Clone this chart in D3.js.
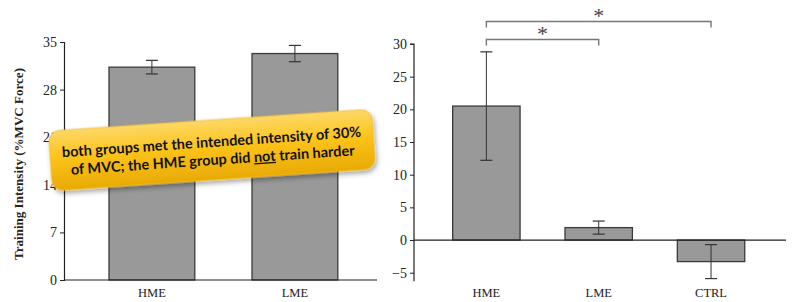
<!DOCTYPE html>
<html>
<head>
<meta charset="utf-8">
<script src="https://cdn.jsdelivr.net/npm/d3@7"></script>
<style>
  body { margin: 0; background: #fff; }
  svg text { font-family: "Liberation Serif", "Times New Roman", serif; }
</style>
</head>
<body>
<div id="chart"></div>
<script>
// Left panel: training intensity
const leftGroups = ["HME", "LME"];
const leftMeans = [31.3, 33.3];
const leftErr = [1.0, 1.2];
const leftTicks = [0, 7, 14, 21, 28, 35];

// Right panel: change
const rightGroups = ["HME", "LME", "CTRL"];
const rightMeans = [20.5, 1.9, -3.3];
const rightErr = [8.3, 1.0, 2.6];
const rightTicks = [-5, 0, 5, 10, 15, 20, 25, 30];

// significance brackets: [from, to]
const sigPairs = [["HME", "CTRL"], ["HME", "LME"]];

const noteLines = ["both groups met the intended intensity of 30%", "of MVC; the HME group did ", "not", " train harder"];

const width = 795, height = 302;
const svg = d3.select("#chart").append("svg")
    .attr("width", width)
    .attr("height", height);

const barFill = "#999999";
const barStroke = "#3a3a3a";

const drawAxisY = (g, scale, ticks) => {
    const ax = g.call(d3.axisLeft(scale).tickValues(ticks).tickSize(4).tickPadding(3));
    ax.select(".domain").attr("stroke", "#222").attr("stroke-width", 1.2);
    ax.selectAll(".tick line").attr("stroke", "#222");
    ax.selectAll(".tick text")
        .attr("fill", "#222")
        .style("font-size", "14px")
        .style("font-family", "'Liberation Serif', serif");
};

const drawErr = (g, x, y0, y1, cap) => {
    g.append("line").attr("x1", x).attr("x2", x).attr("y1", y0).attr("y2", y1)
        .attr("stroke", "#333").attr("stroke-width", 1);
    [y0, y1].forEach(y => g.append("line")
        .attr("x1", x - cap).attr("x2", x + cap).attr("y1", y).attr("y2", y)
        .attr("stroke", "#333").attr("stroke-width", 1.2));
};

// ---------- left panel ----------
const xL = d3.scaleBand().domain(leftGroups).range([80.4, 366.4]).paddingInner(0.4).paddingOuter(0.2);
const yL = d3.scaleLinear().domain([0, 35]).range([280, 42]);

const gL = svg.append("g");
gL.selectAll("rect.bar").data(leftGroups).join("rect")
    .attr("class", "bar")
    .attr("x", d => xL(d))
    .attr("width", xL.bandwidth())
    .attr("y", (d, i) => yL(leftMeans[i]))
    .attr("height", (d, i) => yL(0) - yL(leftMeans[i]))
    .attr("fill", barFill)
    .attr("stroke", barStroke)
    .attr("stroke-width", 1.3);

leftGroups.forEach((d, i) => {
    drawErr(gL, xL(d) + xL.bandwidth() / 2, yL(leftMeans[i] - leftErr[i]), yL(leftMeans[i] + leftErr[i]), 6);
});

drawAxisY(gL.append("g").attr("transform", "translate(64,0)"), yL, leftTicks);

gL.append("line").attr("x1", 64).attr("x2", 377).attr("y1", yL(0)).attr("y2", yL(0))
    .attr("stroke", "#222").attr("stroke-width", 1.2);

gL.selectAll("text.xlab").data(leftGroups).join("text")
    .attr("class", "xlab")
    .attr("x", d => xL(d) + xL.bandwidth() / 2)
    .attr("y", 297)
    .attr("text-anchor", "middle")
    .attr("fill", "#222")
    .style("font-size", "12.5px")
    .text(d => d);

gL.append("text")
    .attr("transform", "translate(23,164) rotate(-90)")
    .attr("text-anchor", "middle")
    .attr("fill", "#222")
    .attr("textLength", 192)
    .attr("lengthAdjust", "spacingAndGlyphs")
    .style("font-size", "13.5px")
    .style("font-weight", "bold")
    .text("Training Intensity (%MVC Force)");

// ---------- right panel ----------
const xR = d3.scaleBand().domain(rightGroups).range([430.2, 767.2]).paddingInner(0.4).paddingOuter(0.2);
const yR = d3.scaleLinear().domain([-5, 30]).range([272.7, 44]);

const gR = svg.append("g");
gR.selectAll("rect.bar").data(rightGroups).join("rect")
    .attr("class", "bar")
    .attr("x", d => xR(d))
    .attr("width", xR.bandwidth())
    .attr("y", (d, i) => yR(Math.max(0, rightMeans[i])))
    .attr("height", (d, i) => Math.abs(yR(rightMeans[i]) - yR(0)))
    .attr("fill", barFill)
    .attr("stroke", barStroke)
    .attr("stroke-width", 1.3);

rightGroups.forEach((d, i) => {
    drawErr(gR, xR(d) + xR.bandwidth() / 2, yR(rightMeans[i] - rightErr[i]), yR(rightMeans[i] + rightErr[i]), 6);
});

const axR = gR.append("g").attr("transform", "translate(414,0)");
drawAxisY(axR, yR, rightTicks);
axR.select(".domain").attr("d", `M-4,${yR(30)}H0V${yR(-6.3)}`);

gR.append("line").attr("x1", 414).attr("x2", 786).attr("y1", yR(0)).attr("y2", yR(0))
    .attr("stroke", "#222").attr("stroke-width", 1.2);

gR.selectAll("text.xlab").data(rightGroups).join("text")
    .attr("class", "xlab")
    .attr("x", d => xR(d) + xR.bandwidth() / 2)
    .attr("y", 297)
    .attr("text-anchor", "middle")
    .attr("fill", "#222")
    .style("font-size", "12.5px")
    .text(d => d);

// significance brackets
const bracketY = [21.5, 39.5];
sigPairs.forEach((p, i) => {
    const x1 = xR(p[0]) + xR.bandwidth() / 2;
    const x2 = xR(p[1]) + xR.bandwidth() / 2;
    const y = bracketY[i];
    gR.append("path")
        .attr("d", `M${x1},${y + 6}V${y}H${x2}V${y + 6}`)
        .attr("fill", "none")
        .attr("stroke", "#777")
        .attr("stroke-width", 1.4);
    gR.append("text")
        .attr("x", (x1 + x2) / 2)
        .attr("y", y + 1)
        .attr("text-anchor", "middle")
        .attr("fill", "#444")
        .style("font-size", "22px")
        .text("*");
});

// ---------- callout note ----------
const defs = svg.append("defs");
const grad = defs.append("linearGradient").attr("id", "gold")
    .attr("x1", 0).attr("y1", 0).attr("x2", 0).attr("y2", 1);
grad.append("stop").attr("offset", "0%").attr("stop-color", "#fdd868");
grad.append("stop").attr("offset", "45%").attr("stop-color", "#fcc318");
grad.append("stop").attr("offset", "100%").attr("stop-color", "#e9aa04");

const shadow = defs.append("filter").attr("id", "shadow")
    .attr("x", "-10%").attr("y", "-20%").attr("width", "130%").attr("height", "150%");
shadow.append("feDropShadow")
    .attr("dx", 1.5).attr("dy", 3).attr("stdDeviation", 2.5)
    .attr("flood-color", "#000").attr("flood-opacity", 0.35);

const note = svg.append("g").attr("transform", "translate(212,150) rotate(-3.9)");
note.append("rect")
    .attr("x", -162).attr("y", -30)
    .attr("width", 324).attr("height", 60)
    .attr("rx", 11)
    .attr("fill", "url(#gold)")
    .attr("stroke", "#f2be3a")
    .attr("stroke-width", 0.8)
    .attr("filter", "url(#shadow)");

const noteText = note.append("text")
    .attr("text-anchor", "middle")
    .attr("fill", "#111")
    .style("font-family", "Lato, 'Open Sans', sans-serif")
    .style("font-weight", "bold")
    .style("font-size", "14.5px");
noteText.append("tspan").attr("x", 0).attr("y", -3).text(noteLines[0]);
const l2 = noteText.append("tspan").attr("x", 0).attr("y", 15);
l2.append("tspan").text(noteLines[1]);
l2.append("tspan").attr("text-decoration", "underline").style("text-decoration", "underline").text(noteLines[2]);
l2.append("tspan").text(noteLines[3]);
</script>
</body>
</html>
